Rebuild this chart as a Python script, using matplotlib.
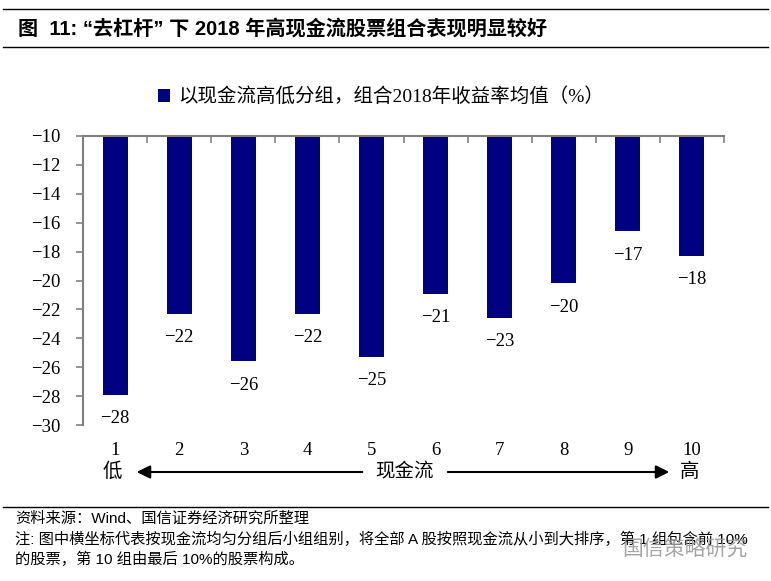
import matplotlib
matplotlib.use("Agg")
import matplotlib.pyplot as plt
from matplotlib.lines import Line2D
import numpy as np

groups = ["1", "2", "3", "4", "5", "6", "7", "8", "9", "10"]
returns = [-27.9, -22.3, -25.6, -22.3, -25.3, -20.9, -22.6, -20.2, -16.6, -18.3]
baseline = -10
yticks = list(range(-30, -9, 2))

title = "图  11: “去杠杆” 下 2018 年高现金流股票组合表现明显较好"
legend_label = "以现金流高低分组，组合2018年收益率均值（%）"
axis_low, axis_mid, axis_high = "低", "现金流", "高"
source = "资料来源：Wind、国信证券经济研究所整理"
note1 = "注: 图中横坐标代表按现金流均匀分组后小组组别，将全部 A 股按照现金流从小到大排序，第 1 组包含前 10%"
note2 = "的股票，第 10 组由最后 10%的股票构成。"
watermark = "国信策略研究"

SERIF = ["Liberation Serif", "Noto Sans CJK SC"]
SANS = ["Liberation Sans", "Noto Sans CJK SC"]
plt.rcParams["font.family"] = SERIF
plt.rcParams["axes.unicode_minus"] = True

W, H = 771, 581
fig = plt.figure(figsize=(W / 100, H / 100), dpi=100)
ax = fig.add_axes([83 / W, 1 - 425 / H, (724 - 83) / W, (425 - 136) / H])

x = np.arange(1, len(groups) + 1)
color = "#000080"
heights = [v - baseline for v in returns]
bars = ax.bar(x, heights, bottom=baseline, width=0.39, color=color, label=legend_label)
labels = [str(int(round(v))).replace("-", "\u2212") for v in returns]
ax.bar_label(bars, labels=labels, padding=11, fontsize=13.5, family=SERIF)

ax.set_ylim(-30, -10)
ax.set_xlim(0.5, len(groups) + 0.5)
ax.set_yticks(yticks)
ax.tick_params(axis="y", labelsize=13.5, length=5, color="#808080", width=1.2, pad=11)

gray = "#808080"
for s in ["right", "bottom"]:
    ax.spines[s].set_visible(False)
for s in ["left", "top"]:
    ax.spines[s].set_color(gray)
    ax.spines[s].set_linewidth(1.5)

ax.set_xticks(x)
ax.set_xticklabels(groups)
ax.tick_params(axis="x", which="major", length=0, labelsize=13.5, pad=12)
ax.set_xticks(np.arange(1.5, len(groups) + 1, 1.0), minor=True)
ax.tick_params(axis="x", which="minor", top=True, bottom=False, direction="in",
               length=5, color=gray, width=1.2)

# legend
leg = fig.legend(handles=[bars], labels=[legend_label], loc="center",
                 bbox_to_anchor=(381 / W, 1 - 97 / H), frameon=False,
                 handlelength=0.6, handleheight=0.6, handletextpad=0.4,
                 prop={"family": SERIF, "size": 14})

# header lines and title
fig.add_artist(Line2D([3 / W, 768 / W], [1 - 9 / H, 1 - 9 / H], color="black", lw=1.0))
fig.add_artist(Line2D([3 / W, 768 / W], [1 - 47 / H, 1 - 47 / H], color="black", lw=1.0))
fig.text(18 / W, 1 - 29 / H, title, fontsize=14.5, fontweight="bold", family=SANS,
         va="center", ha="left")

# arrow row
yrow = 1 - 472 / H
fig.text(112 / W, yrow, axis_low, fontsize=14, family=SERIF, ha="center", va="center")
fig.text(404 / W, yrow, axis_mid, fontsize=14, family=SERIF, ha="center", va="center")
fig.text(690 / W, yrow, axis_high, fontsize=14, family=SERIF, ha="center", va="center")
fig.add_artist(matplotlib.patches.FancyArrowPatch(
    (365 / W, yrow), (134 / W, yrow), transform=fig.transFigure,
    arrowstyle="-|>,head_length=8,head_width=4", color="black", lw=1.5))
fig.add_artist(matplotlib.patches.FancyArrowPatch(
    (445 / W, yrow), (672 / W, yrow), transform=fig.transFigure,
    arrowstyle="-|>,head_length=8,head_width=4", color="black", lw=1.5))

# footer
fig.add_artist(Line2D([3 / W, 768 / W], [1 - 507 / H, 1 - 507 / H], color="black", lw=1.0))
fig.text(15 / W, 1 - 519 / H, source, fontsize=11, family=SANS, va="center", ha="left")
fig.text(15 / W, 1 - 539 / H, note1, fontsize=11, family=SANS, va="center", ha="left")
fig.text(15 / W, 1 - 559 / H, note2, fontsize=11, family=SANS, va="center", ha="left")
fig.text(747 / W, 1 - 549 / H, watermark, fontsize=15, family=SANS, va="center",
         ha="right", color="#9a9a9a", alpha=0.9)

fig.savefig("out.png", dpi=100)
